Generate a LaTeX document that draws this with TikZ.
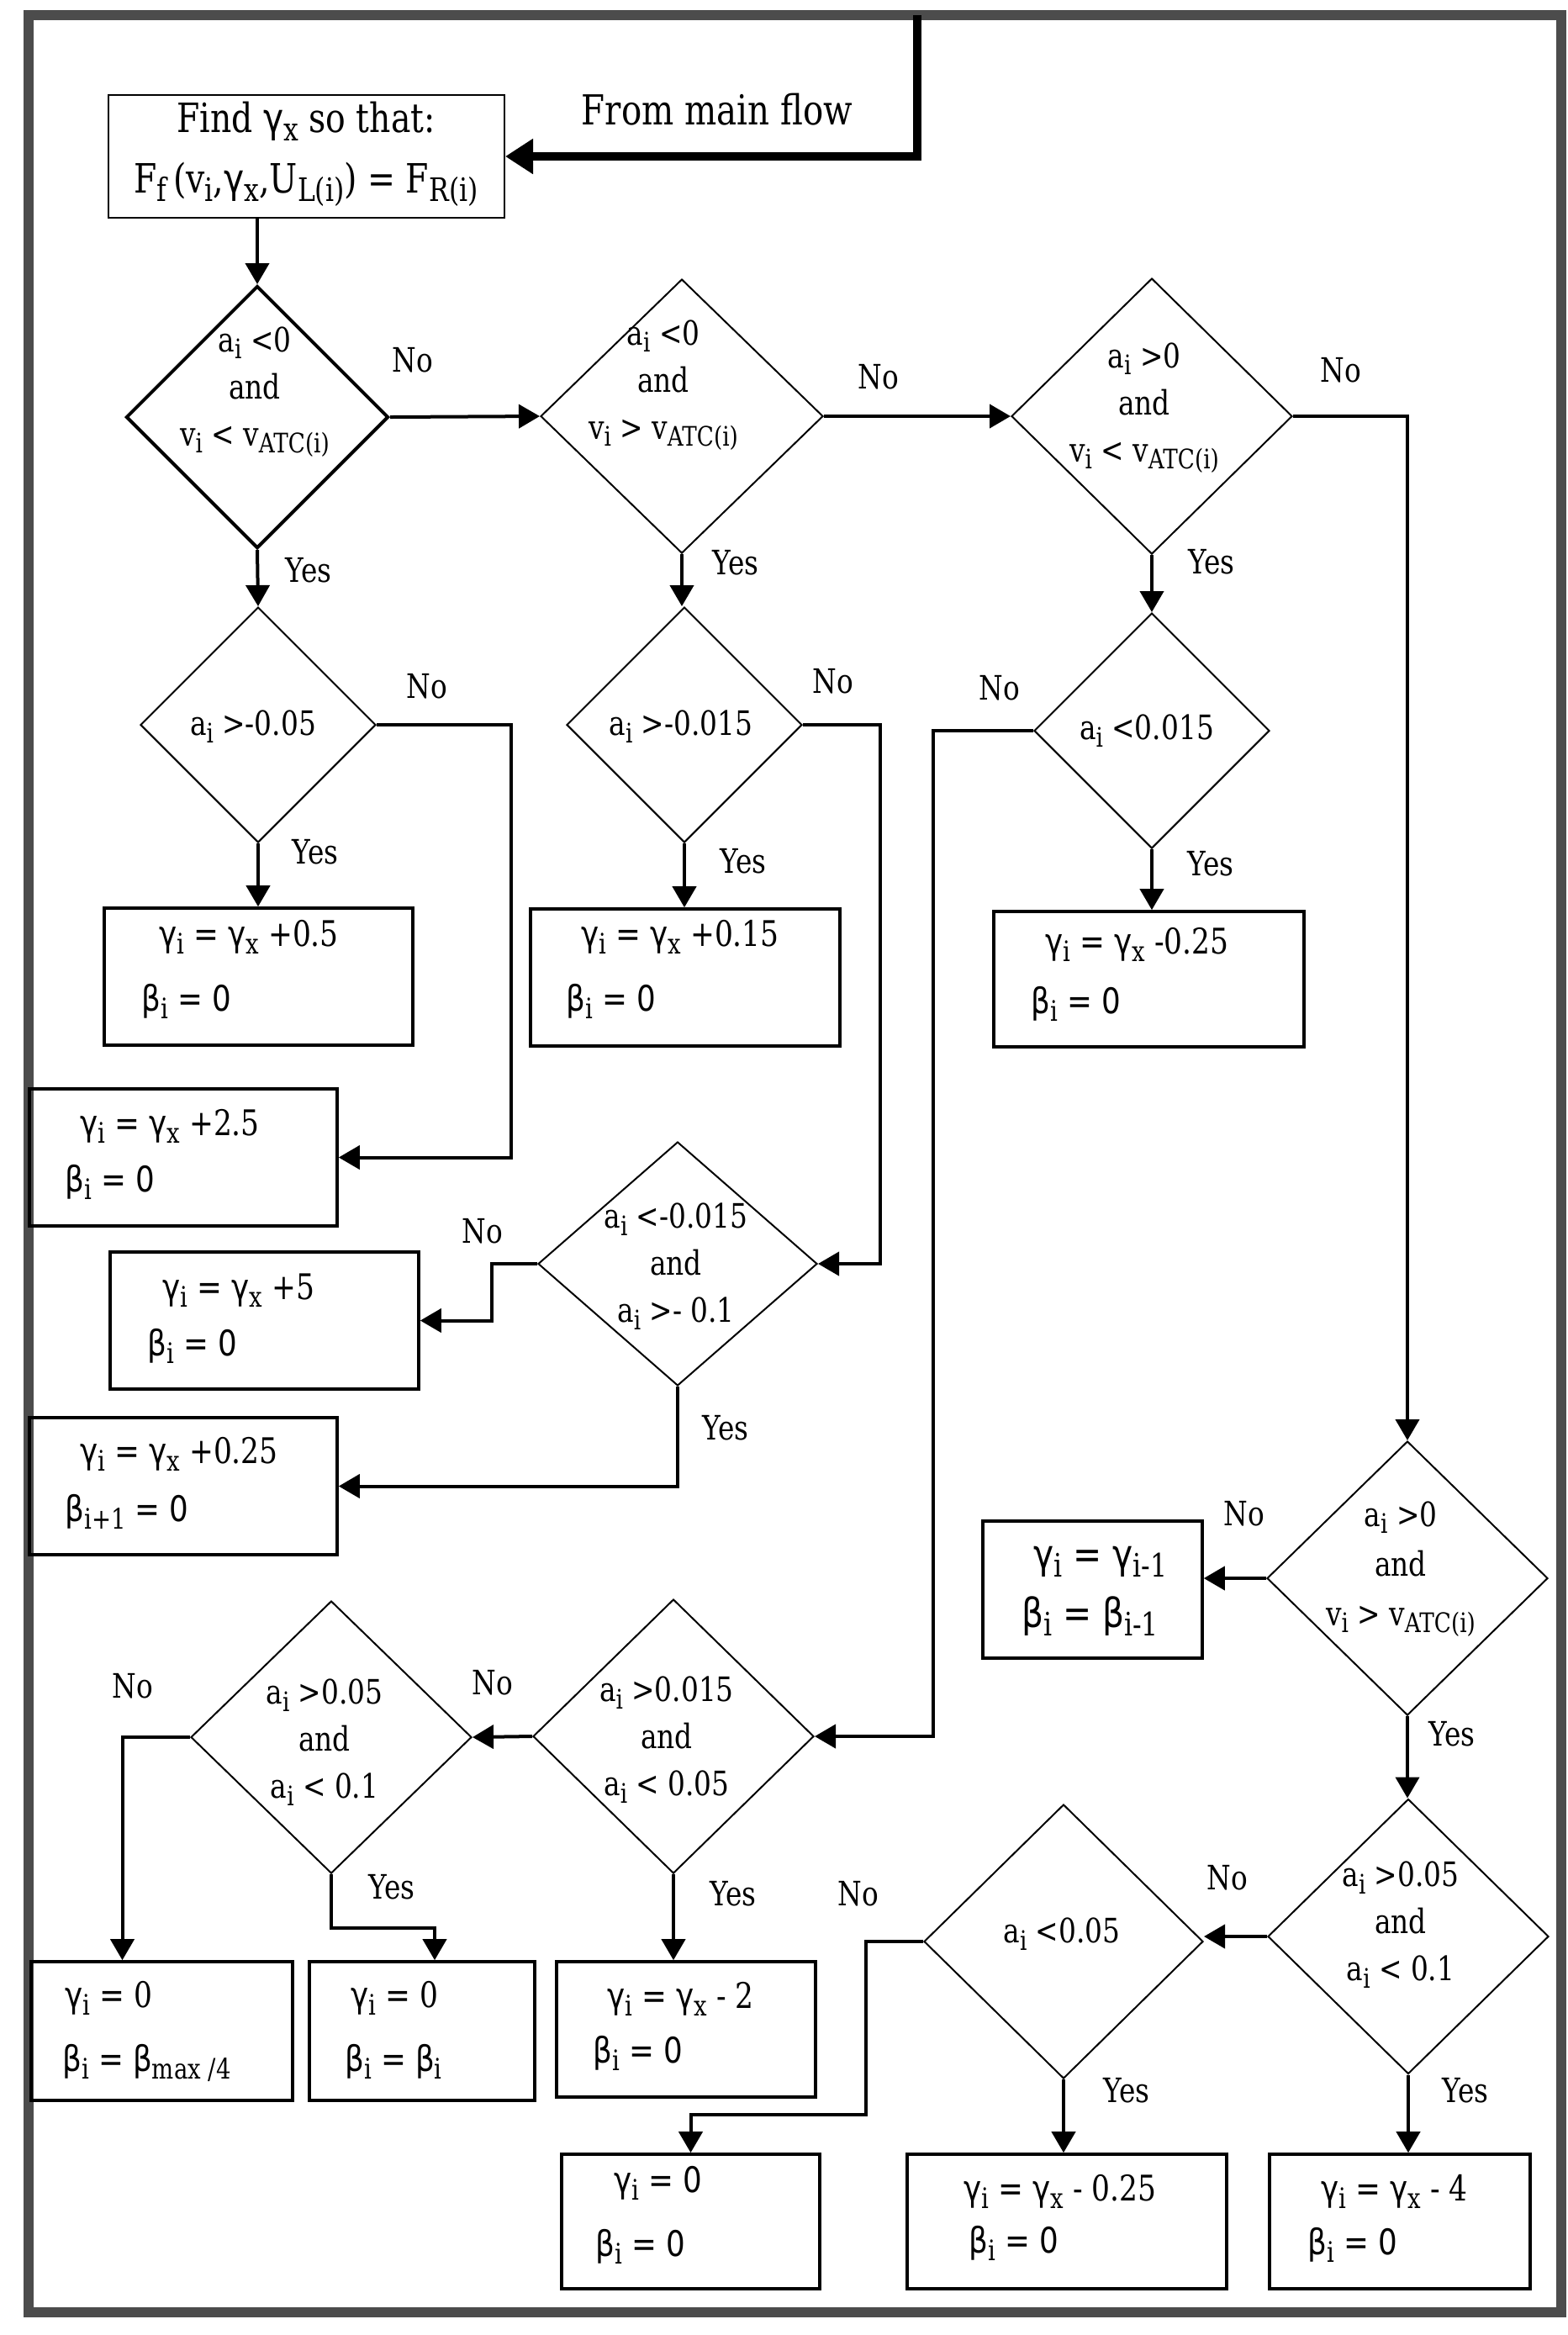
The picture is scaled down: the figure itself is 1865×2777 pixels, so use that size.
\documentclass[tikz,border=0pt]{standalone}
\usepackage{fontspec}
\setmainfont{DejaVu Serif}[FakeStretch=0.82]
\newfontfamily\sansgr{DejaVu Sans}[FakeStretch=0.85]
\usetikzlibrary{shapes.geometric,arrows.meta,calc}
\newcommand\gm{{\sansgr γ}}
\newcommand\bt{{\sansgr β}}
\newcommand\eqs{{\sansgr =}}
\newcommand\zs{{\sansgr 0}}
\makeatletter
\newcommand\sub[1]{\raisebox{-0.4ex}{\fontsize{\fpeval{0.8*\f@size}}{1}\selectfont #1}}
\makeatother
\begin{document}
\begin{tikzpicture}[x=0.25pt,y=-0.25pt,
  dia/.style={diamond, draw, line width=0.5pt, inner sep=0pt},
  box/.style={rectangle, draw, line width=0.9pt, inner sep=0pt},
  arr/.style={draw, line width=1pt, -{Triangle[length=6.25pt,width=7pt]}},
  lbl/.style={font=\fontsize{10}{12}\selectfont, inner sep=0pt},
  dtxt/.style={font=\fontsize{10}{14}\selectfont, align=center, inner sep=0pt},
  btxt/.style={font=\fontsize{10.5}{13}\selectfont, anchor=mid west, inner sep=0pt},
  frame/.style={draw=black!70, line width=3pt}
]
\useasboundingbox (0,0) rectangle (1865,2777);
\draw[frame] (34,18) rectangle (1857,2750);

% start box
\node[box, line width=0.5pt, minimum width=117.75pt, minimum height=36.5pt] (s) at (364.5,186) {};
\node[font=\fontsize{12}{18}\selectfont, align=center, inner sep=0pt] (st) at (364,183)
  {Find \gm\sub{x} so that:\\F\sub{f}\,(v\sub{i},\gm\sub{x},U\sub{L(i)}) = F\sub{R(i)}};
\node[font=\fontsize{12.3}{14}\selectfont, inner sep=0pt] (from) at (853,130) {From main flow};
\coordinate (entry) at (1091,18);
\draw[line width=2.5pt, -{Triangle[length=8.25pt,width=10pt]}] (entry) |- (s.east);

% diamonds
\node[dia, line width=1pt, minimum width=78pt, minimum height=78pt] (d1) at (306,496) {};
\node[dtxt] (d1t) at (303,466) {a\sub{i} <0\\and\\v\sub{i} < v\sub{ATC(i)}};
\node[dia, minimum width=84pt, minimum height=81.5pt] (d2) at (811,495) {};
\node[dtxt] (d2t) at (789,458) {a\sub{i} <0\\and\\v\sub{i} > v\sub{ATC(i)}};
\node[dia, minimum width=83.5pt, minimum height=82pt] (d3) at (1370,495) {};
\node[dtxt] (d3t) at (1361,485) {a\sub{i} >0\\and\\v\sub{i} < v\sub{ATC(i)}};
\node[dia, minimum width=70pt, minimum height=70pt] (d4) at (307,862) {};
\node[dtxt] (d4t) at (301,864) {a\sub{i} >-0.05};
\node[dia, minimum width=70pt, minimum height=70pt] (d5) at (814,862) {};
\node[dtxt] (d5t) at (810,864) {a\sub{i} >-0.015};
\node[dia, minimum width=70pt, minimum height=70pt] (d6) at (1370,869) {};
\node[dtxt] (d6t) at (1364,869) {a\sub{i} <0.015};
\node[dia, minimum width=83pt, minimum height=72.5pt] (d7) at (806,1503) {};
\node[dtxt] (d7t) at (804,1506) {a\sub{i} <-0.015\\and\\a\sub{i} >- 0.1};
\node[dia, minimum width=83.5pt, minimum height=81.5pt] (d8) at (1674,1877) {};
\node[dtxt, font=\fontsize{10}{14.75}\selectfont] (d8t) at (1666,1866) {a\sub{i} >0\\and\\v\sub{i} > v\sub{ATC(i)}};
\node[dia, minimum width=83.5pt, minimum height=81.5pt] (d9) at (801,2065) {};
\node[dtxt] (d9t) at (793,2069) {a\sub{i} >0.015\\and\\a\sub{i} < 0.05};
\node[dia, minimum width=83.5pt, minimum height=81.75pt] (d10) at (1675,2303) {};
\node[dtxt] (d10t) at (1666,2289) {a\sub{i} >0.05\\and\\a\sub{i} < 0.1};
\node[dia, minimum width=83pt, minimum height=81.5pt] (d11) at (1265,2309) {};
\node[dtxt] (d11t) at (1263,2300) {a\sub{i} <0.05};
\node[dia, minimum width=83.5pt, minimum height=81pt] (d12) at (394,2066) {};
\node[dtxt] (d12t) at (386,2072) {a\sub{i} >0.05\\and\\a\sub{i} < 0.1};

% boxes
\node[box, minimum width=91.75pt, minimum height=40.75pt] (b1) at (307.5,1161.5) {};
\node[btxt] (b1a) at (189,1115) {\gm\sub{i} \eqs{} \gm\sub{x} +0.5};
\node[btxt] (b1b) at (168,1192) {\bt\sub{i} \eqs{} \zs};
\node[box, minimum width=92pt, minimum height=40.75pt] (b3) at (815,1162.5) {};
\node[btxt] (b3a) at (691,1115) {\gm\sub{i} \eqs{} \gm\sub{x} +0.15};
\node[btxt] (b3b) at (673,1192) {\bt\sub{i} \eqs{} \zs};
\node[box, minimum width=92.25pt, minimum height=40.25pt] (b4) at (1366.5,1164.5) {};
\node[btxt] (b4a) at (1243,1124) {\gm\sub{i} \eqs{} \gm\sub{x} -0.25};
\node[btxt] (b4b) at (1226,1195) {\bt\sub{i} \eqs{} \zs};
\node[box, minimum width=91.5pt, minimum height=40.75pt] (b2) at (218,1376.5) {};
\node[btxt] (b2a) at (95,1340) {\gm\sub{i} \eqs{} \gm\sub{x} +2.5};
\node[btxt] (b2b) at (77,1407) {\bt\sub{i} \eqs{} \zs};
\node[box, minimum width=91.75pt, minimum height=40.75pt] (b5) at (314.5,1570.5) {};
\node[btxt] (b5a) at (193,1535) {\gm\sub{i} \eqs{} \gm\sub{x} +5};
\node[btxt] (b5b) at (175,1602) {\bt\sub{i} \eqs{} \zs};
\node[box, minimum width=91.5pt, minimum height=40.75pt] (b6) at (218,1767.5) {};
\node[btxt] (b6a) at (95,1730) {\gm\sub{i} \eqs{} \gm\sub{x} +0.25};
\node[btxt] (b6b) at (77,1799) {\bt\sub{i+1} \eqs{} \zs};
\node[box, minimum width=65.25pt, minimum height=40.75pt] (b7) at (1299.5,1890.5) {};
\node[btxt, font=\fontsize{12}{14}\selectfont] (b7a) at (1229,1855) {\gm\sub{i} \eqs{} \gm\sub{i-1}};
\node[btxt, font=\fontsize{12}{14}\selectfont] (b7b) at (1215,1925) {\bt\sub{i} \eqs{} \bt\sub{i-1}};
\node[box, minimum width=77.75pt, minimum height=41.25pt] (b8) at (192.5,2415.5) {};
\node[btxt] (b8a) at (77,2377) {\gm\sub{i} \eqs{} 0};
\node[btxt] (b8b) at (74,2453) {\bt\sub{i} \eqs{} \bt\sub{max /4}};
\node[box, minimum width=67pt, minimum height=41.25pt] (b9) at (502,2415.5) {};
\node[btxt] (b9a) at (417,2377) {\gm\sub{i} \eqs{} 0};
\node[btxt] (b9b) at (410,2453) {\bt\sub{i} \eqs{} \bt\sub{i}};
\node[box, minimum width=77pt, minimum height=40.25pt] (b13) at (816,2413.5) {};
\node[btxt] (b13a) at (722,2378) {\gm\sub{i} \eqs{} \gm\sub{x} - 2};
\node[btxt] (b13b) at (705,2443) {\bt\sub{i} \eqs{} \zs};
\node[box, minimum width=76.75pt, minimum height=40pt] (b10) at (821.5,2642) {};
\node[btxt] (b10a) at (730,2597) {\gm\sub{i} \eqs{} \zs};
\node[btxt] (b10b) at (708,2673) {\bt\sub{i} \eqs{} \zs};
\node[box, minimum width=95pt, minimum height=40pt] (b11) at (1269,2642) {};
\node[btxt] (b11a) at (1146,2607) {\gm\sub{i} \eqs{} \gm\sub{x} - 0.25};
\node[btxt] (b11b) at (1152,2669) {\bt\sub{i} \eqs{} \zs};
\node[box, minimum width=77.5pt, minimum height=40pt] (b12) at (1665,2642) {};
\node[btxt] (b12a) at (1571,2607) {\gm\sub{i} \eqs{} \gm\sub{x} - 4};
\node[btxt] (b12b) at (1555,2671) {\bt\sub{i} \eqs{} \zs};

% connectors
\draw[arr] (s.south -| d1.north) -- (d1.north);
\draw[arr] (d1.east) -- (d2.west);
\draw[arr] (d2.east) -- (d3.west);
\draw[arr] (d3.east) -| (d8.north);
\draw[arr] (d1.south) -- (d4.north);
\draw[arr] (d4.east) -- ++(160,0) |- (b2.east);
\draw[arr] (d4.south) -- (d4.south |- b1.north);
\draw[arr] (d2.south) -- (d2.south |- d5.north);
\draw[arr] (d5.east) -- ++(92,0) |- (d7.east);
\draw[arr] (d5.south) -- (d5.south |- b3.north);
\draw[arr] (d3.south) -- (d6.north);
\draw[arr] (d6.west) -- ++(-119,0) |- (d9.east);
\draw[arr] (d6.south) -- (d6.south |- b4.north);
\draw[arr] (d7.west) -- ++(-54,0) |- (b5.east);
\draw[arr] (d7.south) |- (b6.east);
\draw[arr] (d8.west) -- (d8.west -| b7.east);
\draw[arr] (d8.south) -- (d8.south |- d10.north);
\draw[arr] (d10.west) -- (d10.west -| d11.east);
\draw[arr] (d10.south) -- (d10.south |- b12.north);
\draw[arr] (d11.west) -| ++(-68,206) -| (b10.north);
\draw[arr] (d11.south) -- (d11.south |- b11.north);
\draw[arr] (d9.west) -- (d12.east);
\draw[arr] (d9.south) -- (d9.south |- b13.north);
\draw[arr] (d12.west) -| ($(b8.north)+(-47,0)$);
\draw[arr] (d12.south) -- ++(0,64) -| ($(b9.north)+(15,0)$);

% labels
\node[lbl] (n1) at (491,428) {No};
\node[lbl] (y1) at (367,678) {Yes};
\node[lbl] (n2) at (1045,448) {No};
\node[lbl] (y2) at (875,669) {Yes};
\node[lbl] (n3) at (1595,440) {No};
\node[lbl] (y3) at (1441,668) {Yes};
\node[lbl] (n4) at (508,816) {No};
\node[lbl] (y4) at (375,1013) {Yes};
\node[lbl] (n5) at (991,810) {No};
\node[lbl] (y5) at (884,1024) {Yes};
\node[lbl] (n6) at (1189,818) {No};
\node[lbl] (y6) at (1440,1027) {Yes};
\node[lbl] (n7) at (574,1464) {No};
\node[lbl] (y7) at (863,1698) {Yes};
\node[lbl] (n8) at (1480,1800) {No};
\node[lbl] (y8) at (1727,2062) {Yes};
\node[lbl] (n10) at (1460,2233) {No};
\node[lbl] (y10) at (1743,2486) {Yes};
\node[lbl] (n11) at (1021,2252) {No};
\node[lbl] (y11) at (1340,2486) {Yes};
\node[lbl] (n9) at (586,2001) {No};
\node[lbl] (y9) at (872,2252) {Yes};
\node[lbl] (n12) at (158,2005) {No};
\node[lbl] (y12) at (466,2244) {Yes};
\end{tikzpicture}
\end{document}
